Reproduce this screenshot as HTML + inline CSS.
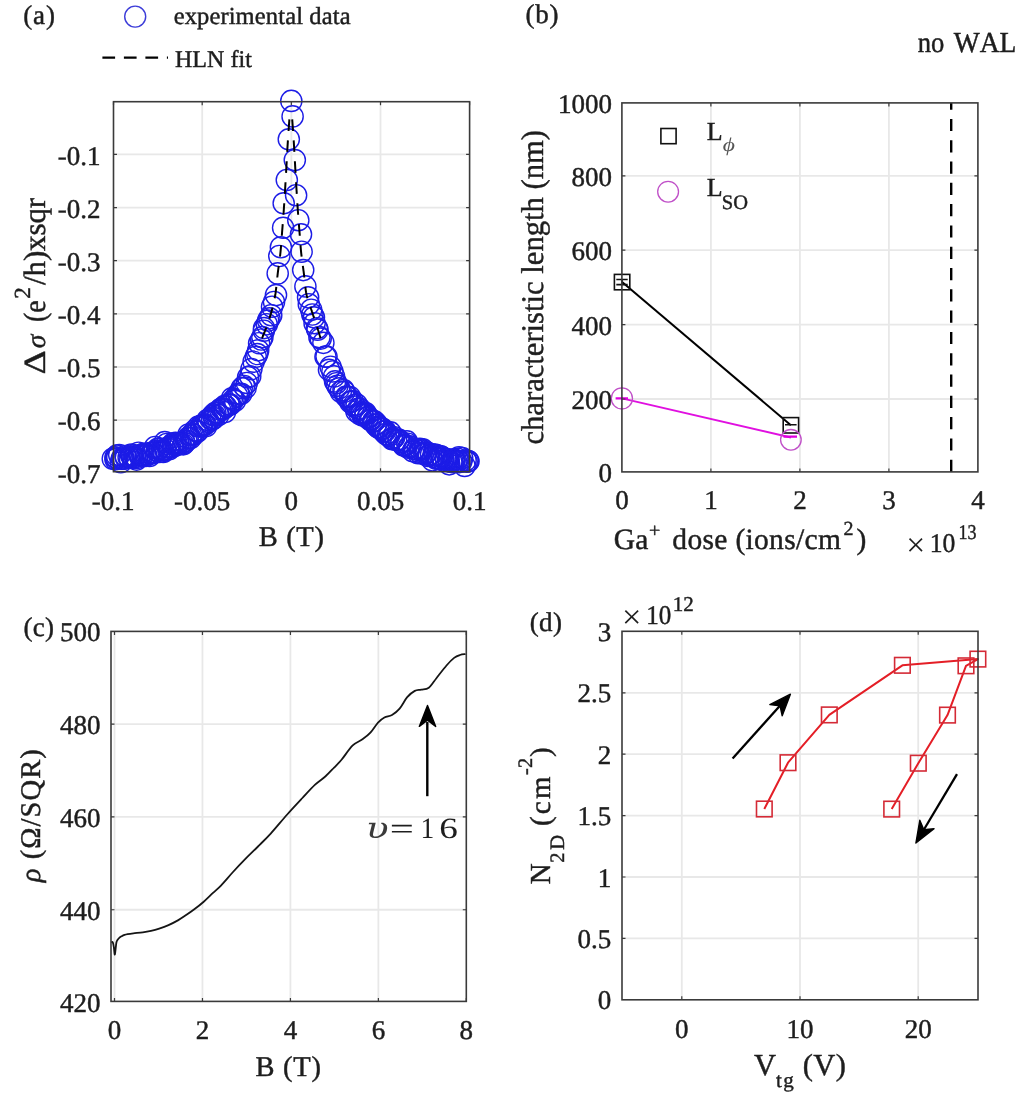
<!DOCTYPE html><html><head><meta charset="utf-8"><style>html,body{margin:0;padding:0;background:#fff;overflow:hidden}svg{display:block}text{stroke:#1e1e1e;stroke-width:0.45px}</style></head><body><svg width="1025" height="1106" viewBox="0 0 1025 1106" font-family="'Liberation Serif','Times New Roman',serif" fill="#1e1e1e" style="font-kerning:none" text-rendering="geometricPrecision">
<rect width="1025" height="1106" fill="#fff"/>
<line x1="202.2" y1="101.7" x2="202.2" y2="471.7" stroke="#e8e8e8" stroke-width="1.8"/>
<line x1="291.35" y1="101.7" x2="291.35" y2="471.7" stroke="#e8e8e8" stroke-width="1.8"/>
<line x1="380.5" y1="101.7" x2="380.5" y2="471.7" stroke="#e8e8e8" stroke-width="1.8"/>
<line x1="113.5" y1="154.44" x2="469.6" y2="154.44" stroke="#e8e8e8" stroke-width="1.8"/>
<line x1="113.5" y1="207.58" x2="469.6" y2="207.58" stroke="#e8e8e8" stroke-width="1.8"/>
<line x1="113.5" y1="260.72" x2="469.6" y2="260.72" stroke="#e8e8e8" stroke-width="1.8"/>
<line x1="113.5" y1="313.86" x2="469.6" y2="313.86" stroke="#e8e8e8" stroke-width="1.8"/>
<line x1="113.5" y1="367" x2="469.6" y2="367" stroke="#e8e8e8" stroke-width="1.8"/>
<line x1="113.5" y1="420.14" x2="469.6" y2="420.14" stroke="#e8e8e8" stroke-width="1.8"/>
<g fill="none" stroke="#1c1ce6" stroke-width="1.4"><circle cx="291.3" cy="100.9" r="10.6"/><circle cx="292.6" cy="116.4" r="10.6"/><circle cx="288.8" cy="139.3" r="10.6"/><circle cx="294.8" cy="160.1" r="10.6"/><circle cx="286.8" cy="180" r="10.6"/><circle cx="296.1" cy="195.2" r="10.6"/><circle cx="283.7" cy="203.3" r="10.6"/><circle cx="298.3" cy="220.2" r="10.6"/><circle cx="283.1" cy="227.8" r="10.6"/><circle cx="301" cy="234.3" r="10.6"/><circle cx="280.9" cy="247.3" r="10.6"/><circle cx="301.6" cy="251.7" r="10.6"/><circle cx="279.3" cy="256" r="10.6"/><circle cx="303.2" cy="270.1" r="10.6"/><circle cx="277.7" cy="273.4" r="10.6"/><circle cx="305.4" cy="286.4" r="10.6"/><circle cx="276" cy="295.1" r="10.6"/><circle cx="308.1" cy="297.3" r="10.6"/><circle cx="274" cy="302.02" r="10.6"/><circle cx="272.04" cy="306.71" r="10.6"/><circle cx="271.24" cy="315.26" r="10.6"/><circle cx="269.45" cy="318.36" r="10.6"/><circle cx="268.1" cy="320.59" r="10.6"/><circle cx="266.81" cy="324.24" r="10.6"/><circle cx="264.05" cy="328.13" r="10.6"/><circle cx="263.88" cy="330.68" r="10.6"/><circle cx="262.39" cy="337.15" r="10.6"/><circle cx="261.24" cy="339.51" r="10.6"/><circle cx="259.11" cy="343.2" r="10.6"/><circle cx="258.18" cy="350.29" r="10.6"/><circle cx="257.23" cy="354.07" r="10.6"/><circle cx="255.78" cy="356.83" r="10.6"/><circle cx="253.6" cy="361.67" r="10.6"/><circle cx="251.41" cy="369.12" r="10.6"/><circle cx="250.22" cy="376.21" r="10.6"/><circle cx="248.1" cy="377.27" r="10.6"/><circle cx="246.82" cy="382.94" r="10.6"/><circle cx="245.67" cy="387.69" r="10.6"/><circle cx="244.05" cy="386.01" r="10.6"/><circle cx="241.72" cy="388.18" r="10.6"/><circle cx="241.22" cy="393.83" r="10.6"/><circle cx="239.2" cy="394.24" r="10.6"/><circle cx="238.4" cy="393.82" r="10.6"/><circle cx="236.98" cy="395.48" r="10.6"/><circle cx="235.02" cy="400.85" r="10.6"/><circle cx="233.53" cy="399.85" r="10.6"/><circle cx="232.03" cy="398.31" r="10.6"/><circle cx="230.31" cy="404.63" r="10.6"/><circle cx="229.16" cy="404.86" r="10.6"/><circle cx="228.58" cy="404.49" r="10.6"/><circle cx="226.07" cy="406.47" r="10.6"/><circle cx="224.9" cy="405.83" r="10.6"/><circle cx="225.02" cy="412.09" r="10.6"/><circle cx="223.62" cy="408.72" r="10.6"/><circle cx="222.53" cy="409.05" r="10.6"/><circle cx="221.51" cy="408.56" r="10.6"/><circle cx="220.08" cy="409.59" r="10.6"/><circle cx="218.37" cy="415" r="10.6"/><circle cx="217.6" cy="412.85" r="10.6"/><circle cx="215.39" cy="412.79" r="10.6"/><circle cx="214.03" cy="418.11" r="10.6"/><circle cx="214.7" cy="415.26" r="10.6"/><circle cx="213" cy="415.06" r="10.6"/><circle cx="212.15" cy="419.49" r="10.6"/><circle cx="210.22" cy="418.58" r="10.6"/><circle cx="208.56" cy="421.8" r="10.6"/><circle cx="207.51" cy="420.1" r="10.6"/><circle cx="206.24" cy="426.09" r="10.6"/><circle cx="204.77" cy="424.39" r="10.6"/><circle cx="204.06" cy="425.19" r="10.6"/><circle cx="202.24" cy="425.23" r="10.6"/><circle cx="200.99" cy="426.06" r="10.6"/><circle cx="200.75" cy="426.29" r="10.6"/><circle cx="198.58" cy="426.58" r="10.6"/><circle cx="197.51" cy="431.53" r="10.6"/><circle cx="196.73" cy="431.03" r="10.6"/><circle cx="194.78" cy="430.47" r="10.6"/><circle cx="193.56" cy="434.7" r="10.6"/><circle cx="192.4" cy="433.81" r="10.6"/><circle cx="191.12" cy="435.43" r="10.6"/><circle cx="190.65" cy="437.95" r="10.6"/><circle cx="188.49" cy="434.43" r="10.6"/><circle cx="187.83" cy="437.93" r="10.6"/><circle cx="186.41" cy="440.78" r="10.6"/><circle cx="184.37" cy="443.07" r="10.6"/><circle cx="184.13" cy="441.45" r="10.6"/><circle cx="183.22" cy="444.35" r="10.6"/><circle cx="180.52" cy="443.47" r="10.6"/><circle cx="180.4" cy="444.05" r="10.6"/><circle cx="178.54" cy="443.27" r="10.6"/><circle cx="178.26" cy="443.45" r="10.6"/><circle cx="176.64" cy="443.54" r="10.6"/><circle cx="175.61" cy="445.45" r="10.6"/><circle cx="175.44" cy="442.89" r="10.6"/><circle cx="173.7" cy="443.61" r="10.6"/><circle cx="172.56" cy="446.8" r="10.6"/><circle cx="172.68" cy="443.7" r="10.6"/><circle cx="170.21" cy="447.2" r="10.6"/><circle cx="169.18" cy="449.14" r="10.6"/><circle cx="168.27" cy="447.43" r="10.6"/><circle cx="166.74" cy="443.97" r="10.6"/><circle cx="164.73" cy="442.13" r="10.6"/><circle cx="165.31" cy="449.44" r="10.6"/><circle cx="163.25" cy="452.03" r="10.6"/><circle cx="162.51" cy="449.97" r="10.6"/><circle cx="161.68" cy="451.64" r="10.6"/><circle cx="159.5" cy="451.96" r="10.6"/><circle cx="159.54" cy="448.54" r="10.6"/><circle cx="157.82" cy="448.79" r="10.6"/><circle cx="156.94" cy="451.08" r="10.6"/><circle cx="155.01" cy="446.97" r="10.6"/><circle cx="153.53" cy="452.98" r="10.6"/><circle cx="152.49" cy="452.69" r="10.6"/><circle cx="151.3" cy="453.44" r="10.6"/><circle cx="149.29" cy="453.02" r="10.6"/><circle cx="149.59" cy="456.05" r="10.6"/><circle cx="147.72" cy="454.58" r="10.6"/><circle cx="146.01" cy="454.19" r="10.6"/><circle cx="145.68" cy="456.04" r="10.6"/><circle cx="143.45" cy="453.78" r="10.6"/><circle cx="142.4" cy="455.55" r="10.6"/><circle cx="140.48" cy="455.46" r="10.6"/><circle cx="139.43" cy="455.36" r="10.6"/><circle cx="138.53" cy="452.68" r="10.6"/><circle cx="136.91" cy="458.07" r="10.6"/><circle cx="136.61" cy="459.58" r="10.6"/><circle cx="134.89" cy="456.95" r="10.6"/><circle cx="133.5" cy="457.7" r="10.6"/><circle cx="132.18" cy="456.56" r="10.6"/><circle cx="131.52" cy="454.5" r="10.6"/><circle cx="131.07" cy="455.34" r="10.6"/><circle cx="129.73" cy="457.98" r="10.6"/><circle cx="128.61" cy="457.2" r="10.6"/><circle cx="125.9" cy="457.83" r="10.6"/><circle cx="125.5" cy="455.94" r="10.6"/><circle cx="123.77" cy="458.64" r="10.6"/><circle cx="122.98" cy="458.77" r="10.6"/><circle cx="121.73" cy="458.69" r="10.6"/><circle cx="120.82" cy="462.3" r="10.6"/><circle cx="119.25" cy="454.94" r="10.6"/><circle cx="116.96" cy="455.63" r="10.6"/><circle cx="116.88" cy="458.37" r="10.6"/><circle cx="115.55" cy="457.31" r="10.6"/><circle cx="115.51" cy="459.28" r="10.6"/><circle cx="112.79" cy="458.76" r="10.6"/><circle cx="308.82" cy="304.25" r="10.6"/><circle cx="311.19" cy="309.71" r="10.6"/><circle cx="312.34" cy="314.52" r="10.6"/><circle cx="313.94" cy="317.34" r="10.6"/><circle cx="314.6" cy="323.21" r="10.6"/><circle cx="316.97" cy="328.25" r="10.6"/><circle cx="317.51" cy="329.75" r="10.6"/><circle cx="319.44" cy="337.14" r="10.6"/><circle cx="320.69" cy="338.62" r="10.6"/><circle cx="323.39" cy="342.86" r="10.6"/><circle cx="325.49" cy="356.65" r="10.6"/><circle cx="326.52" cy="356.62" r="10.6"/><circle cx="328.99" cy="369.82" r="10.6"/><circle cx="330.55" cy="366.75" r="10.6"/><circle cx="332.44" cy="371.44" r="10.6"/><circle cx="334.06" cy="376.4" r="10.6"/><circle cx="335.1" cy="381.38" r="10.6"/><circle cx="336.34" cy="383.25" r="10.6"/><circle cx="337.38" cy="385.68" r="10.6"/><circle cx="339.15" cy="388.31" r="10.6"/><circle cx="340.81" cy="391.77" r="10.6"/><circle cx="343.49" cy="389.96" r="10.6"/><circle cx="344.35" cy="391.87" r="10.6"/><circle cx="346.17" cy="396.61" r="10.6"/><circle cx="347.29" cy="396.83" r="10.6"/><circle cx="349.93" cy="396.94" r="10.6"/><circle cx="350.18" cy="401.99" r="10.6"/><circle cx="351.08" cy="401.55" r="10.6"/><circle cx="352.68" cy="401" r="10.6"/><circle cx="353.9" cy="405.2" r="10.6"/><circle cx="355.11" cy="406.72" r="10.6"/><circle cx="356.71" cy="404.55" r="10.6"/><circle cx="356.48" cy="411.47" r="10.6"/><circle cx="358.64" cy="408.67" r="10.6"/><circle cx="359.79" cy="414.03" r="10.6"/><circle cx="359.93" cy="408.86" r="10.6"/><circle cx="361.96" cy="413.59" r="10.6"/><circle cx="361.87" cy="412.08" r="10.6"/><circle cx="362.68" cy="415.41" r="10.6"/><circle cx="365.56" cy="412.93" r="10.6"/><circle cx="365.41" cy="414.19" r="10.6"/><circle cx="368.11" cy="416.8" r="10.6"/><circle cx="367.74" cy="417.71" r="10.6"/><circle cx="369.84" cy="419.4" r="10.6"/><circle cx="370.78" cy="420.33" r="10.6"/><circle cx="373.26" cy="421.42" r="10.6"/><circle cx="373.31" cy="421.3" r="10.6"/><circle cx="374.33" cy="421.24" r="10.6"/><circle cx="375.66" cy="425.06" r="10.6"/><circle cx="376.5" cy="423.49" r="10.6"/><circle cx="377.73" cy="426.89" r="10.6"/><circle cx="378.52" cy="427.48" r="10.6"/><circle cx="379.78" cy="427.41" r="10.6"/><circle cx="380.83" cy="428.88" r="10.6"/><circle cx="381.74" cy="428.67" r="10.6"/><circle cx="382.78" cy="429.03" r="10.6"/><circle cx="383.53" cy="431.61" r="10.6"/><circle cx="385.3" cy="431.11" r="10.6"/><circle cx="385.87" cy="433.98" r="10.6"/><circle cx="388.1" cy="434.72" r="10.6"/><circle cx="388.87" cy="436" r="10.6"/><circle cx="390.41" cy="432.39" r="10.6"/><circle cx="392.22" cy="438.59" r="10.6"/><circle cx="392.11" cy="439.28" r="10.6"/><circle cx="392.79" cy="438.85" r="10.6"/><circle cx="394.25" cy="437.25" r="10.6"/><circle cx="396.22" cy="440.07" r="10.6"/><circle cx="398.82" cy="440.23" r="10.6"/><circle cx="398.54" cy="439.63" r="10.6"/><circle cx="400.67" cy="442.04" r="10.6"/><circle cx="401.52" cy="442.45" r="10.6"/><circle cx="403.57" cy="445.53" r="10.6"/><circle cx="404.42" cy="444.69" r="10.6"/><circle cx="404.72" cy="445.62" r="10.6"/><circle cx="406.88" cy="441.42" r="10.6"/><circle cx="407.54" cy="443.7" r="10.6"/><circle cx="408.33" cy="447.72" r="10.6"/><circle cx="409.49" cy="446.42" r="10.6"/><circle cx="409.79" cy="446.85" r="10.6"/><circle cx="412.84" cy="451.32" r="10.6"/><circle cx="414.13" cy="449.09" r="10.6"/><circle cx="415.09" cy="449.02" r="10.6"/><circle cx="417.76" cy="449.44" r="10.6"/><circle cx="418.06" cy="453.14" r="10.6"/><circle cx="419.89" cy="448.83" r="10.6"/><circle cx="420.21" cy="453.02" r="10.6"/><circle cx="421.01" cy="450.08" r="10.6"/><circle cx="422.72" cy="449.34" r="10.6"/><circle cx="424.74" cy="454.16" r="10.6"/><circle cx="426.09" cy="453.05" r="10.6"/><circle cx="426.59" cy="452.31" r="10.6"/><circle cx="427.94" cy="455.97" r="10.6"/><circle cx="429.09" cy="455.13" r="10.6"/><circle cx="431.13" cy="454.01" r="10.6"/><circle cx="432.37" cy="460.37" r="10.6"/><circle cx="433.48" cy="456.64" r="10.6"/><circle cx="434.95" cy="454.6" r="10.6"/><circle cx="436.47" cy="455.28" r="10.6"/><circle cx="436.33" cy="458.65" r="10.6"/><circle cx="437.99" cy="458" r="10.6"/><circle cx="439.25" cy="458.98" r="10.6"/><circle cx="440.22" cy="456.06" r="10.6"/><circle cx="441.86" cy="457.05" r="10.6"/><circle cx="442.88" cy="460.37" r="10.6"/><circle cx="443.28" cy="458.3" r="10.6"/><circle cx="446.09" cy="459.29" r="10.6"/><circle cx="448.01" cy="459.33" r="10.6"/><circle cx="448.7" cy="461.09" r="10.6"/><circle cx="449.2" cy="464.34" r="10.6"/><circle cx="451.35" cy="462.01" r="10.6"/><circle cx="452.1" cy="460.27" r="10.6"/><circle cx="453.42" cy="460.12" r="10.6"/><circle cx="454.06" cy="459.37" r="10.6"/><circle cx="454.7" cy="460.32" r="10.6"/><circle cx="456.25" cy="461.63" r="10.6"/><circle cx="458.1" cy="461.27" r="10.6"/><circle cx="457.43" cy="458.75" r="10.6"/><circle cx="459" cy="457.18" r="10.6"/><circle cx="459.48" cy="462.11" r="10.6"/><circle cx="461.26" cy="461.42" r="10.6"/><circle cx="462.18" cy="458.12" r="10.6"/><circle cx="464.6" cy="465.9" r="10.6"/><circle cx="465.55" cy="460.42" r="10.6"/><circle cx="466.71" cy="461.79" r="10.6"/><circle cx="467.92" cy="461.08" r="10.6"/><circle cx="468.51" cy="461.26" r="10.6"/></g>
<path d="M289.38 119.39 L289.26 121.08 L289.13 122.77 L289.01 124.49 L288.88 126.21 L288.76 127.95 L288.64 129.71 L288.51 131.48 L288.39 133.28 L288.27 135.09 L288.14 136.94 L288.02 138.81 L287.89 140.71 L287.77 142.64 L287.65 144.61 L287.52 146.62 L287.4 148.67 L287.28 150.81 L287.15 153 L287.03 155.25 L286.9 157.52 L286.78 159.82 L286.66 162.11 L286.53 164.39 L286.41 166.64 L286.29 168.85 L286.16 171.04 L286.04 173.23 L285.91 175.41 L285.79 177.59 L285.67 179.75 L285.54 181.9 L285.42 184.03 L285.3 186.13 L285.17 188.21 L285.05 190.25 L284.92 192.29 L284.8 194.32 L284.68 196.33 L284.55 198.33 L284.43 200.31 L284.31 202.26 L284.18 204.18 L284.06 206.07 L283.93 207.92 L283.81 209.73 L283.69 211.5 L283.56 213.22 L283.44 214.9 L283.32 216.56 L283.19 218.18 L283.07 219.79 L282.94 221.37 L282.82 222.94 L282.7 224.5 L282.57 226.05 L282.45 227.6 L282.33 229.15 L282.2 230.71 L282.08 232.28 L281.95 233.88 L281.83 235.52 L281.71 237.17 L281.58 238.83 L281.46 240.48 L281.34 242.13 L281.21 243.74 L281.09 245.32 L280.96 246.86 L280.84 248.33 L280.72 249.74 L280.59 251.07 L280.47 252.3 L280.35 253.48 L280.22 254.6 L280.1 255.69 L279.97 256.74 L279.85 257.75 L279.73 258.73 L279.6 259.69 L279.48 260.62 L279.35 261.54 L279.23 262.44 L279.11 263.32 L278.98 264.2 L278.86 265.08 L278.74 265.96 L278.61 266.84 L278.49 267.73 L278.36 268.63 L278.24 269.55 L278.12 270.48 L277.99 271.44 L277.87 272.43 L277.75 273.45 L277.62 274.51 L277.5 275.61 L277.37 276.74 L277.25 277.9 L277.13 279.08 L277 280.26 L276.88 281.46 L276.76 282.66 L276.63 283.85 L276.51 285.02 L276.38 286.18 L276.26 287.32 L276.14 288.42 L276.01 289.49 L275.89 290.51 L275.77 291.48 L275.64 292.4 L275.52 293.25 L275.39 294.03 L275.27 294.77 L275.15 295.5 L275.02 296.2 L274.9 296.88 L274.78 297.55 L274.65 298.2 L274.53 298.84 L274.4 299.46 L274.28 300.07 L274.16 300.66 L274.03 301.24 L273.91 301.81 L273.79 302.37 L273.66 302.91 L273.54 303.45 L273.41 303.97 L273.29 304.49 L273.17 305 L273.04 305.5 L272.92 305.99 L272.8 306.48 L272.67 306.96 L272.55 307.44 L272.42 307.91 L272.3 308.38 L272.18 308.85 L272.05 309.31 L271.93 309.77 L271.81 310.23 L271.68 310.7 L271.56 311.16 L271.43 311.62 L271.31 312.07 L271.19 312.51 L271.06 312.96 L270.94 313.39 L270.82 313.83 L270.69 314.25 L270.57 314.68 L270.44 315.1 L270.32 315.51 L270.2 315.92 L270.07 316.33 L269.95 316.73 L269.83 317.13 L269.7 317.53 L269.58 317.92 L269.45 318.31 L269.33 318.7 L269.21 319.08 L269.08 319.46 L268.96 319.84 L268.83 320.21 L268.71 320.59 L268.59 320.96 L268.46 321.32 L268.34 321.69 L268.22 322.06 L268.09 322.42 L267.97 322.78 L267.84 323.14 L267.72 323.5 L267.6 323.86 L267.47 324.21 L267.35 324.57 L267.23 324.93 L267.1 325.28 L266.98 325.63 L266.85 325.98 L266.73 326.32 L266.61 326.66 L266.48 327 L266.36 327.33 L266.24 327.66 L266.11 327.99 L265.99 328.32 L265.86 328.64 L265.74 328.96 L265.62 329.28 L265.49 329.6 L265.37 329.91 L265.25 330.23 L265.12 330.54 L265 330.85 L264.87 331.16 L264.75 331.47 L264.63 331.78 L264.5 332.08 L264.38 332.39 L264.26 332.69 L264.13 333 L264.01 333.3 L263.88 333.61 L263.76 333.91 L263.64 334.22 L263.51 334.52 L263.39 334.83 L263.27 335.14 L263.14 335.44 L263.02 335.75 L262.89 336.06 L262.77 336.37 L262.65 336.68 L262.52 336.99 L262.4 337.3 L262.28 337.62 L262.15 337.94 L262.03 338.26 L261.9 338.58 L261.78 338.9 L261.66 339.23 L261.53 339.55 L261.41 339.89 L261.29 340.22 L261.16 340.56 L261.04 340.9 L260.91 341.24 L260.79 341.58 L260.67 341.93 L260.54 342.28 L260.42 342.63 L260.3 342.99 L260.17 343.35 L260.05 343.71 L259.92 344.07 L259.8 344.43" fill="none" stroke="#000" stroke-width="2" stroke-dasharray="11.6 9.4"/>
<path d="M292.22 119.39 L292.34 121.08 L292.47 122.77 L292.59 124.49 L292.72 126.21 L292.84 127.95 L292.96 129.71 L293.09 131.48 L293.21 133.28 L293.33 135.09 L293.46 136.94 L293.58 138.81 L293.71 140.71 L293.83 142.64 L293.95 144.61 L294.08 146.62 L294.2 148.67 L294.32 150.81 L294.45 153 L294.57 155.25 L294.7 157.52 L294.82 159.82 L294.94 162.11 L295.07 164.39 L295.19 166.64 L295.31 168.85 L295.44 171.04 L295.56 173.23 L295.69 175.41 L295.81 177.59 L295.93 179.75 L296.06 181.9 L296.18 184.03 L296.3 186.13 L296.43 188.21 L296.55 190.25 L296.68 192.29 L296.8 194.32 L296.92 196.33 L297.05 198.33 L297.17 200.31 L297.29 202.26 L297.42 204.18 L297.54 206.07 L297.67 207.92 L297.79 209.73 L297.91 211.5 L298.04 213.22 L298.16 214.9 L298.28 216.56 L298.41 218.18 L298.53 219.79 L298.66 221.37 L298.78 222.94 L298.9 224.5 L299.03 226.05 L299.15 227.6 L299.27 229.15 L299.4 230.71 L299.52 232.28 L299.65 233.88 L299.77 235.52 L299.89 237.17 L300.02 238.83 L300.14 240.48 L300.26 242.13 L300.39 243.74 L300.51 245.32 L300.64 246.86 L300.76 248.33 L300.88 249.74 L301.01 251.07 L301.13 252.3 L301.25 253.48 L301.38 254.61 L301.5 255.7 L301.63 256.75 L301.75 257.77 L301.87 258.76 L302 259.73 L302.12 260.67 L302.25 261.59 L302.37 262.5 L302.49 263.39 L302.62 264.28 L302.74 265.16 L302.86 266.03 L302.99 266.92 L303.11 267.8 L303.24 268.7 L303.36 269.61 L303.48 270.53 L303.61 271.47 L303.73 272.44 L303.85 273.44 L303.98 274.48 L304.1 275.56 L304.23 276.67 L304.35 277.81 L304.47 278.97 L304.6 280.14 L304.72 281.32 L304.84 282.48 L304.97 283.64 L305.09 284.78 L305.22 285.9 L305.34 286.98 L305.46 288.02 L305.59 289.02 L305.71 289.96 L305.83 290.84 L305.96 291.65 L306.08 292.38 L306.21 293.03 L306.33 293.62 L306.45 294.2 L306.58 294.76 L306.7 295.29 L306.82 295.81 L306.95 296.32 L307.07 296.81 L307.2 297.28 L307.32 297.73 L307.44 298.18 L307.57 298.61 L307.69 299.02 L307.81 299.43 L307.94 299.83 L308.06 300.21 L308.19 300.59 L308.31 300.96 L308.43 301.33 L308.56 301.68 L308.68 302.03 L308.8 302.38 L308.93 302.72 L309.05 303.06 L309.18 303.4 L309.3 303.73 L309.42 304.07 L309.55 304.4 L309.67 304.74 L309.79 305.08 L309.92 305.42 L310.04 305.76 L310.17 306.11 L310.29 306.47 L310.41 306.83 L310.54 307.19 L310.66 307.57 L310.78 307.95 L310.91 308.34 L311.03 308.73 L311.16 309.11 L311.28 309.5 L311.4 309.88 L311.53 310.26 L311.65 310.64 L311.77 311.01 L311.9 311.39 L312.02 311.77 L312.15 312.14 L312.27 312.51 L312.39 312.88 L312.52 313.26 L312.64 313.63 L312.77 313.99 L312.89 314.36 L313.01 314.73 L313.14 315.1 L313.26 315.46 L313.38 315.83 L313.51 316.2 L313.63 316.56 L313.76 316.93 L313.88 317.29 L314 317.66 L314.13 318.02 L314.25 318.38 L314.37 318.75 L314.5 319.11 L314.62 319.48 L314.75 319.84 L314.87 320.2 L314.99 320.57 L315.12 320.93 L315.24 321.3 L315.36 321.67 L315.49 322.03 L315.61 322.4 L315.74 322.77 L315.86 323.14 L315.98 323.51 L316.11 323.88 L316.23 324.25 L316.35 324.62 L316.48 324.99 L316.6 325.37 L316.73 325.74 L316.85 326.12 L316.97 326.49 L317.1 326.87 L317.22 327.25 L317.34 327.63 L317.47 328.02 L317.59 328.4 L317.72 328.79 L317.84 329.18 L317.96 329.57 L318.09 329.96 L318.21 330.35 L318.33 330.75 L318.46 331.14 L318.58 331.54 L318.71 331.94 L318.83 332.34 L318.95 332.75 L319.08 333.15 L319.2 333.56 L319.32 333.97 L319.45 334.37 L319.57 334.78 L319.7 335.19 L319.82 335.6 L319.94 336.02 L320.07 336.43 L320.19 336.84 L320.31 337.26 L320.44 337.68 L320.56 338.09 L320.69 338.51 L320.81 338.93 L320.93 339.34 L321.06 339.76 L321.18 340.18 L321.3 340.6 L321.43 341.02 L321.55 341.44 L321.68 341.86 L321.8 342.27" fill="none" stroke="#000" stroke-width="2" stroke-dasharray="11.6 9.4"/>
<path d="M202.2 471.7v-3.5M202.2 101.7v3.5M291.35 471.7v-3.5M291.35 101.7v3.5M380.5 471.7v-3.5M380.5 101.7v3.5M113.5 471.7v-3.5M113.5 101.7v3.5M469.6 471.7v-3.5M469.6 101.7v3.5M113.5 154.44h3.5M469.6 154.44h-3.5M113.5 207.58h3.5M469.6 207.58h-3.5M113.5 260.72h3.5M469.6 260.72h-3.5M113.5 313.86h3.5M469.6 313.86h-3.5M113.5 367h3.5M469.6 367h-3.5M113.5 420.14h3.5M469.6 420.14h-3.5" stroke="#3a3a3a" stroke-width="1.2" fill="none"/>
<rect x="113.5" y="101.7" width="356.1" height="370" fill="none" stroke="#3a3a3a" stroke-width="1.6"/>
<text x="100.6" y="164.64" font-size="27" text-anchor="end">-0.1</text>
<text x="100.6" y="217.78" font-size="27" text-anchor="end">-0.2</text>
<text x="100.6" y="270.92" font-size="27" text-anchor="end">-0.3</text>
<text x="100.6" y="324.06" font-size="27" text-anchor="end">-0.4</text>
<text x="100.6" y="377.2" font-size="27" text-anchor="end">-0.5</text>
<text x="100.6" y="430.34" font-size="27" text-anchor="end">-0.6</text>
<text x="100.6" y="483.48" font-size="27" text-anchor="end">-0.7</text>
<text x="113.05" y="509.7" font-size="27" text-anchor="middle">-0.1</text>
<text x="202.2" y="509.7" font-size="27" text-anchor="middle">-0.05</text>
<text x="291.35" y="509.7" font-size="27" text-anchor="middle">0</text>
<text x="380.5" y="509.7" font-size="27" text-anchor="middle">0.05</text>
<text x="469.65" y="509.7" font-size="27" text-anchor="middle">0.1</text>
<text x="258.68" y="546.3" font-size="28.5" letter-spacing="0.69" >B (T)</text>
<text transform="translate(44.8 373.2) rotate(-90) scale(1.219 1)" x="-1.17" y="0" font-size="30.8" >Δ</text>
<text transform="translate(45 347.4) rotate(-90)" x="-0.82" y="0" font-size="27.5" font-style="italic" >σ</text>
<text transform="translate(45 320.8) rotate(-90) scale(0.901 1)" x="-1.36" y="0" font-size="31" >(e</text>
<text transform="translate(30.3 297.7) rotate(-90)" x="-1.01" y="0" font-size="23" >2</text>
<text transform="translate(45 285) rotate(-90)" x="-0" y="0" font-size="31" letter-spacing="-0.11" >/h)xsqr</text>
<text x="23.21" y="24.45" font-size="27" letter-spacing="0.85" >(a)</text>
<circle cx="135.2" cy="16.6" r="10.5" fill="none" stroke="#3c3cd8" stroke-width="1.4"/>
<text x="173.64" y="24.4" font-size="24.5" letter-spacing="0.13" >experimental data</text>
<path d="M102.4 57.6H168" stroke="#000" stroke-width="2.2" stroke-dasharray="12.7 8.8"/>
<text x="174.91" y="67.3" font-size="24" letter-spacing="0.05" >HLN fit</text>
<line x1="710.9" y1="102.9" x2="710.9" y2="471.9" stroke="#e8e8e8" stroke-width="1.8"/>
<line x1="799.9" y1="102.9" x2="799.9" y2="471.9" stroke="#e8e8e8" stroke-width="1.8"/>
<line x1="888.9" y1="102.9" x2="888.9" y2="471.9" stroke="#e8e8e8" stroke-width="1.8"/>
<line x1="621.9" y1="399" x2="977.9" y2="399" stroke="#e8e8e8" stroke-width="1.8"/>
<line x1="621.9" y1="324.6" x2="977.9" y2="324.6" stroke="#e8e8e8" stroke-width="1.8"/>
<line x1="621.9" y1="250.2" x2="977.9" y2="250.2" stroke="#e8e8e8" stroke-width="1.8"/>
<line x1="621.9" y1="175.8" x2="977.9" y2="175.8" stroke="#e8e8e8" stroke-width="1.8"/>
<path d="M951.2 471.9V102.9" stroke="#000" stroke-width="2.4" stroke-dasharray="12.2 9.1"/>
<path d="M622.1 282.1L790.9 425.2" stroke="#000" stroke-width="2"/>
<path d="M621.9 398.4L790.9 437.5" stroke="#e010e0" stroke-width="2"/>
<g fill="none" stroke="#111" stroke-width="1.6"><rect x="614.4" y="274.4" width="15.4" height="15.4"/><rect x="783.2" y="417.6" width="15.4" height="15.4"/><path d="M616.3 279.5h11.4M616.3 284.6h11.4M622.1 279.5v5.1M785 424.8h11.6"/></g>
<g fill="none" stroke="#c050c8" stroke-width="1.3"><circle cx="621.9" cy="398.4" r="10.6"/><circle cx="790.9" cy="439.8" r="10.3"/></g>
<path d="M615.6 398.4h12.4M783.5 436.7h13.5" stroke="#e000e0" stroke-width="2.2"/>
<path d="M710.9 471.9v-3.5M710.9 102.9v3.5M799.9 471.9v-3.5M799.9 102.9v3.5M888.9 471.9v-3.5M888.9 102.9v3.5M621.9 399h3.5M977.9 399h-3.5M621.9 324.6h3.5M977.9 324.6h-3.5M621.9 250.2h3.5M977.9 250.2h-3.5M621.9 175.8h3.5M977.9 175.8h-3.5" stroke="#3a3a3a" stroke-width="1.2" fill="none"/>
<rect x="621.9" y="102.9" width="356" height="369" fill="none" stroke="#3a3a3a" stroke-width="1.6"/>
<text x="611.9" y="482" font-size="27" text-anchor="end">0</text>
<text x="611.9" y="409.1" font-size="27" text-anchor="end">200</text>
<text x="611.9" y="334.7" font-size="27" text-anchor="end">400</text>
<text x="611.9" y="260.3" font-size="27" text-anchor="end">600</text>
<text x="611.9" y="185.9" font-size="27" text-anchor="end">800</text>
<text x="611.9" y="113" font-size="27" text-anchor="end">1000</text>
<text x="621.9" y="509.3" font-size="27" text-anchor="middle">0</text>
<text x="710.9" y="509.3" font-size="27" text-anchor="middle">1</text>
<text x="799.9" y="509.3" font-size="27" text-anchor="middle">2</text>
<text x="888.9" y="509.3" font-size="27" text-anchor="middle">3</text>
<text x="977.9" y="509.3" font-size="27" text-anchor="middle">4</text>
<text transform="translate(909 556.03) scale(1.002 1)" x="-2.66" y="0" font-size="33.6" style="stroke:none">×</text>
<text transform="translate(932 552.2) scale(0.949 1)" x="-2.37" y="0" font-size="27" >10</text>
<text transform="translate(960.2 539) scale(0.856 1)" x="-1.85" y="0" font-size="21" >13</text>
<text x="613.69" y="549.3" font-size="29.5" letter-spacing="0.32" >Ga</text>
<text x="649" y="537.4" font-size="20" >+</text>
<text x="672.33" y="549.3" font-size="29.5" letter-spacing="0.32" >dose (ions/cm</text>
<text x="843.62" y="535.3" font-size="20" >2</text>
<text x="856.55" y="549.3" font-size="29.5" >)</text>
<text transform="translate(543.3 443.4) rotate(-90) scale(0.972 1)" x="-1.2" y="0" font-size="31.5" >characteristic length (nm)</text>
<text x="525.41" y="23.25" font-size="27" letter-spacing="0.75" >(b)</text>
<text transform="translate(918.3 52) scale(0.918 1)" x="-0.67" y="0" font-size="29" >no</text>
<text transform="translate(953.7 52) scale(0.948 1)" x="-0.03" y="0" font-size="29" >WAL</text>
<rect x="660.9" y="128.5" width="15.2" height="15.2" fill="none" stroke="#111" stroke-width="1.6"/>
<circle cx="668.1" cy="191.7" r="10.4" fill="none" stroke="#c050c8" stroke-width="1.3"/>
<text x="706.65" y="139.6" font-size="26" >L</text>
<text transform="translate(723.2 151.3) scale(1.214 1)" x="-0.45" y="0" font-size="19.4" font-style="italic" fill="#555" style="stroke:none">ϕ</text>
<text x="706.65" y="196" font-size="26" >L</text>
<text x="721.83" y="208.7" font-size="20.5" letter-spacing="0.01" >SO</text>
<line x1="114.5" y1="631.4" x2="114.5" y2="1001.4" stroke="#e8e8e8" stroke-width="1.8"/>
<line x1="202.46" y1="631.4" x2="202.46" y2="1001.4" stroke="#e8e8e8" stroke-width="1.8"/>
<line x1="290.42" y1="631.4" x2="290.42" y2="1001.4" stroke="#e8e8e8" stroke-width="1.8"/>
<line x1="378.38" y1="631.4" x2="378.38" y2="1001.4" stroke="#e8e8e8" stroke-width="1.8"/>
<line x1="111" y1="909.75" x2="466.3" y2="909.75" stroke="#e8e8e8" stroke-width="1.8"/>
<line x1="111" y1="816.9" x2="466.3" y2="816.9" stroke="#e8e8e8" stroke-width="1.8"/>
<line x1="111" y1="724.05" x2="466.3" y2="724.05" stroke="#e8e8e8" stroke-width="1.8"/>
<path d="M111.2 942.2C111.47 942.23 112.35 941.52 112.8 942.4C113.25 943.28 113.58 945.48 113.9 947.5C114.22 949.52 114.43 954.08 114.7 954.5C114.97 954.92 115.22 952 115.5 950C115.78 948 116.05 944.2 116.4 942.5C116.75 940.8 117.08 940.62 117.6 939.8C118.12 938.98 118.82 938.2 119.5 937.6C120.18 937 120.87 936.65 121.7 936.2C122.53 935.75 123.52 935.25 124.5 934.9C125.48 934.55 126.12 934.37 127.6 934.1C129.08 933.83 130.87 933.58 133.4 933.3C135.93 933.02 139.87 932.8 142.8 932.4C145.73 932 148.27 931.53 151 930.9C153.73 930.27 156.28 929.57 159.2 928.6C162.12 927.63 165.38 926.47 168.5 925.1C171.62 923.73 174.97 922.07 177.9 920.4C180.83 918.73 183.37 916.95 186.1 915.1C188.83 913.25 191.37 911.53 194.3 909.3C197.23 907.07 200.58 904.43 203.7 901.7C206.82 898.97 210.08 895.63 213 892.9C215.92 890.17 217.87 888.78 221.2 885.3C224.53 881.82 228.97 876.4 233 872C237.03 867.6 241.23 863.15 245.4 858.9C249.57 854.65 253.78 850.72 258 846.5C262.22 842.28 265.83 838.93 270.7 833.6C275.57 828.27 281.92 820.43 287.2 814.5C292.48 808.57 297.75 802.97 302.4 798C307.05 793.03 311.28 788.28 315.1 784.7C318.92 781.12 322.13 779.35 325.3 776.5C328.47 773.65 331.37 770.43 334.1 767.6C336.83 764.77 338.6 763.2 341.7 759.5C344.8 755.8 349.18 748.8 352.7 745.4C356.22 742 359.85 741.22 362.8 739.1C365.75 736.98 367.87 735.45 370.4 732.7C372.93 729.95 375.67 725.13 378 722.6C380.33 720.07 382.07 718.77 384.4 717.5C386.73 716.23 389.47 716.48 392 715C394.53 713.52 397.07 711.57 399.6 708.6C402.13 705.63 404.67 700.15 407.2 697.2C409.73 694.25 412.47 692.17 414.8 690.9C417.13 689.63 418.87 690.13 421.2 689.6C423.53 689.07 426.27 689.6 428.8 687.7C431.33 685.8 433.45 681.9 436.4 678.2C439.35 674.5 443.55 668.88 446.5 665.5C449.45 662.12 451.85 659.65 454.1 657.9C456.35 656.15 458.08 655.63 460 655C461.92 654.37 464.67 654.25 465.6 654.1" fill="none" stroke="#151515" stroke-width="1.8" stroke-linejoin="round"/>
<path d="M114.5 1001.4v-3.5M114.5 631.4v3.5M202.46 1001.4v-3.5M202.46 631.4v3.5M290.42 1001.4v-3.5M290.42 631.4v3.5M378.38 1001.4v-3.5M378.38 631.4v3.5M466.3 1001.4v-3.5M466.3 631.4v3.5M111 909.75h3.5M466.3 909.75h-3.5M111 816.9h3.5M466.3 816.9h-3.5M111 724.05h3.5M466.3 724.05h-3.5" stroke="#3a3a3a" stroke-width="1.2" fill="none"/>
<rect x="111" y="631.4" width="355.3" height="370" fill="none" stroke="#3a3a3a" stroke-width="1.6"/>
<text x="100.6" y="1012.4" font-size="27" text-anchor="end">420</text>
<text x="100.6" y="919.55" font-size="27" text-anchor="end">440</text>
<text x="100.6" y="826.7" font-size="27" text-anchor="end">460</text>
<text x="100.6" y="733.85" font-size="27" text-anchor="end">480</text>
<text x="100.6" y="641" font-size="27" text-anchor="end">500</text>
<text x="114.5" y="1039.3" font-size="27" text-anchor="middle">0</text>
<text x="202.46" y="1039.3" font-size="27" text-anchor="middle">2</text>
<text x="290.42" y="1039.3" font-size="27" text-anchor="middle">4</text>
<text x="378.38" y="1039.3" font-size="27" text-anchor="middle">6</text>
<text x="466.34" y="1039.3" font-size="27" text-anchor="middle">8</text>
<text x="255.38" y="1076.2" font-size="28.5" letter-spacing="0.76" >B (T)</text>
<text transform="translate(39.6 883) rotate(-90)" x="0.72" y="0" font-size="28.5" font-style="italic" >ρ</text>
<text transform="translate(39.6 858) rotate(-90)" x="-1.25" y="0" font-size="28.5" letter-spacing="1.08" >(Ω/SQR)</text>
<text x="23.41" y="635.85" font-size="27" letter-spacing="0.25" >(c)</text>
<path d="M427.3 796.2V722" stroke="#000" stroke-width="2.4"/>
<path d="M427.5 705.5L419.3 726.4L427.5 720.3L435.7 726.4Z" fill="#000" stroke="#000" stroke-width="1.4" stroke-linejoin="round"/>
<text transform="translate(368.7 837.7) scale(1.27 1)" x="-2.36" y="0" font-size="29.5" font-family="'DejaVu Math TeX Gyre',serif" fill="#3a3a3a" style="stroke:none">𝜐</text>
<text transform="translate(391.8 839.12) scale(1.380 1)" x="-1.54" y="0" font-size="31" style="stroke:none">=</text>
<text transform="translate(423 837.8) scale(0.934 1)" x="-2.59" y="0" font-size="29.5" style="stroke:none">1</text>
<text transform="translate(440.9 837.8) scale(1.262 1)" x="-1.27" y="0" font-size="29.5" style="stroke:none">6</text>
<line x1="681.8" y1="631.3" x2="681.8" y2="999.8" stroke="#e8e8e8" stroke-width="1.8"/>
<line x1="800" y1="631.3" x2="800" y2="999.8" stroke="#e8e8e8" stroke-width="1.8"/>
<line x1="918.2" y1="631.3" x2="918.2" y2="999.8" stroke="#e8e8e8" stroke-width="1.8"/>
<line x1="622" y1="938.4" x2="978" y2="938.4" stroke="#e8e8e8" stroke-width="1.8"/>
<line x1="622" y1="877" x2="978" y2="877" stroke="#e8e8e8" stroke-width="1.8"/>
<line x1="622" y1="815.6" x2="978" y2="815.6" stroke="#e8e8e8" stroke-width="1.8"/>
<line x1="622" y1="754.2" x2="978" y2="754.2" stroke="#e8e8e8" stroke-width="1.8"/>
<line x1="622" y1="692.8" x2="978" y2="692.8" stroke="#e8e8e8" stroke-width="1.8"/>
<path d="M764.3 809 L788 762.7 L829.3 714.9 L902.4 665.3 L977.9 659.1 L966 665.8 L947.5 715.1 L918.3 763.2 L891.7 809.1" fill="none" stroke="#e41e26" stroke-width="2" stroke-linejoin="round"/>
<g fill="none" stroke="#d42a36" stroke-width="1.6"><rect x="756.5" y="801.2" width="15.6" height="15.6"/><rect x="780.2" y="754.9" width="15.6" height="15.6"/><rect x="821.5" y="707.1" width="15.6" height="15.6"/><rect x="894.6" y="657.5" width="15.6" height="15.6"/><rect x="970.1" y="651.3" width="15.6" height="15.6"/><rect x="958.2" y="658" width="15.6" height="15.6"/><rect x="939.7" y="707.3" width="15.6" height="15.6"/><rect x="910.5" y="755.4" width="15.6" height="15.6"/><rect x="883.9" y="801.3" width="15.6" height="15.6"/></g>
<path d="M681.8 999.8v-3.5M681.8 631.3v3.5M800 999.8v-3.5M800 631.3v3.5M918.2 999.8v-3.5M918.2 631.3v3.5M622 938.4h3.5M978 938.4h-3.5M622 877h3.5M978 877h-3.5M622 815.6h3.5M978 815.6h-3.5M622 754.2h3.5M978 754.2h-3.5M622 692.8h3.5M978 692.8h-3.5" stroke="#3a3a3a" stroke-width="1.2" fill="none"/>
<rect x="622" y="631.3" width="356" height="368.5" fill="none" stroke="#3a3a3a" stroke-width="1.6"/>
<text x="611.2" y="1009.4" font-size="27" text-anchor="end">0</text>
<text x="611.2" y="948" font-size="27" text-anchor="end">0.5</text>
<text x="611.2" y="886.6" font-size="27" text-anchor="end">1</text>
<text x="611.2" y="825.2" font-size="27" text-anchor="end">1.5</text>
<text x="611.2" y="763.8" font-size="27" text-anchor="end">2</text>
<text x="611.2" y="702.4" font-size="27" text-anchor="end">2.5</text>
<text x="611.2" y="641" font-size="27" text-anchor="end">3</text>
<text x="681.8" y="1038.2" font-size="27" text-anchor="middle">0</text>
<text x="800" y="1038.2" font-size="27" text-anchor="middle">10</text>
<text x="918.2" y="1038.2" font-size="27" text-anchor="middle">20</text>
<text transform="translate(624.7 627.83) scale(1.024 1)" x="-2.66" y="0" font-size="33.6" style="stroke:none">×</text>
<text transform="translate(648.4 623.5) scale(0.928 1)" x="-2.37" y="0" font-size="27" >10</text>
<text x="672.85" y="610.8" font-size="21" letter-spacing="0.00" >12</text>
<text x="753.96" y="1075.1" font-size="30.5" >V</text>
<text x="775.99" y="1087.4" font-size="21" letter-spacing="1.37" >tg</text>
<text x="802.86" y="1075.1" font-size="30.5" letter-spacing="0.32" >(V)</text>
<text transform="translate(549.9 883.5) rotate(-90)" x="-0.84" y="0" font-size="29" >N</text>
<text transform="translate(563.9 861.8) rotate(-90)" x="-0.9" y="0" font-size="20.5" letter-spacing="2.57" >2D</text>
<text transform="translate(549.9 824.7) rotate(-90)" x="-1.27" y="0" font-size="29" letter-spacing="2.17" >(cm</text>
<text transform="translate(532.4 774.2) rotate(-90)" x="-0.76" y="0" font-size="20.5" letter-spacing="0.22" >-2</text>
<text transform="translate(549.9 756) rotate(-90)" x="-0.93" y="0" font-size="29" >)</text>
<text x="529.71" y="630.55" font-size="27" letter-spacing="0.35" >(d)</text>
<path d="M732.6 758.5L779.7 706.1" stroke="#000" stroke-width="2.3"/>
<path d="M790.4 694.2L782.2 715.74L780.04 705.73L769.85 704.64Z" fill="#000" stroke="#000" stroke-width="1.4" stroke-linejoin="round"/>
<path d="M957 774.2L924.11 829.26" stroke="#000" stroke-width="2.3"/>
<path d="M915.9 843L919.8 820.29L923.85 829.69L934.05 828.8Z" fill="#000" stroke="#000" stroke-width="1.4" stroke-linejoin="round"/>
</svg></body></html>
